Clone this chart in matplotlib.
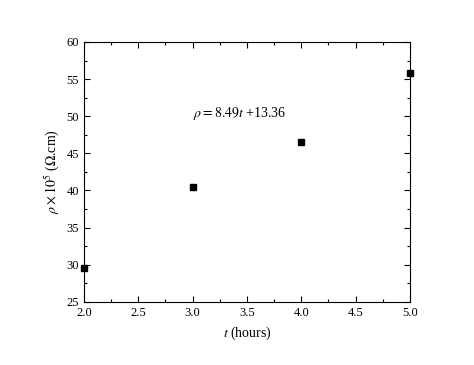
import matplotlib.pyplot as plt
from matplotlib.ticker import MultipleLocator

plt.rcParams['font.family'] = ['Liberation Serif', 'DejaVu Serif']
plt.rcParams['mathtext.fontset'] = 'stix'

t_hours = [2.0, 3.0, 4.0, 5.0]
rho = [29.5, 40.5, 46.5, 55.8]

fig = plt.figure(figsize=(4.74, 3.65), dpi=100)
ax = fig.add_axes([0.177, 0.173, 0.688, 0.712])

ax.plot(t_hours, rho, 's', color='black', markersize=5, clip_on=False)

ax.set_xlim(2.0, 5.0)
ax.set_ylim(25, 60)
ax.xaxis.set_major_locator(MultipleLocator(0.5))
ax.xaxis.set_minor_locator(MultipleLocator(0.25))
ax.yaxis.set_major_locator(MultipleLocator(5))
ax.yaxis.set_minor_locator(MultipleLocator(2.5))
ax.xaxis.set_major_formatter(plt.FormatStrFormatter('%.1f'))
ax.tick_params(which='both', direction='in', top=True, right=True, labelsize=9, width=0.8)
ax.tick_params(which='major', length=4)
ax.tick_params(which='minor', length=2)
for s in ax.spines.values():
    s.set_linewidth(0.8)

ax.set_xlabel(r'$t$ (hours)', fontsize=10, labelpad=4)
ax.set_ylabel(r'$\rho \times 10^5$ ($\Omega$.cm)', fontsize=10, labelpad=4)
ax.text(3.0, 50.4, r'$\rho = 8.49t$ +13.36', fontsize=10, va='center')

fig.savefig('out.png', dpi=100)
